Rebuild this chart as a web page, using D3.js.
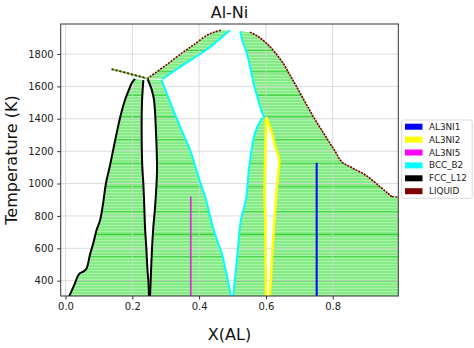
<!DOCTYPE html>
<html>
<head>
<meta charset="utf-8">
<script src="https://cdn.jsdelivr.net/npm/d3@7"></script>
<style>
  body { margin: 0; background: #fff; }
  svg { display: block; font-family: "DejaVu Sans", sans-serif; }
</style>
</head>
<body>
<svg id="chart" width="474" height="348"></svg>
<script>
// ---- Axis ticks and legend ----
const xTicks = [0.0, 0.2, 0.4, 0.6, 0.8];
const yTicks = [400, 600, 800, 1000, 1200, 1400, 1600, 1800];
const phaseNames  = ["AL3NI1", "AL3NI2", "AL3NI5", "BCC_B2", "FCC_L12", "LIQUID"];
const phaseColors = ["#0000ff", "#ffff00", "#ff00ff", "#00ffff", "#000000", "#800000"];

// ---- Phase boundaries, [X(AL), T (K)] ----
// FCC_A1 / two-phase boundary on the Ni-rich side
const fccLeft = [[0.010,300],[0.020,345],[0.028,384],[0.036,425],[0.043,446],[0.053,456],[0.063,476],
  [0.073,559],[0.083,631],[0.093,713],[0.103,770],[0.112,870],[0.121,1000],[0.133,1110],[0.143,1210],
  [0.153,1310],[0.165,1420],[0.178,1516],[0.190,1580],[0.198,1619],[0.208,1646]];
// FCC_L12 single-phase field, left and right edges (top to bottom)
const l12Left = [[0.233,1639],[0.229,1500],[0.228,1310],[0.230,1100],[0.233,1000],[0.236,850],
  [0.238,733],[0.242,600],[0.246,450],[0.248,404],[0.250,300]];
const l12Right = [[0.246,1644],[0.258,1580],[0.265,1515],[0.271,1310],[0.274,1100],[0.273,1020],
  [0.268,850],[0.263,733],[0.259,600],[0.255,404],[0.253,300]];
// BCC_B2 field, Ni-rich edge (below and above the 1645 K corner)
const bccLeft = [[0.288,1639],[0.310,1520],[0.343,1351],[0.373,1207],[0.403,1010],[0.421,898],
  [0.438,754],[0.452,660],[0.468,569],[0.480,460],[0.490,363],[0.495,300]];
const bccLeftUpper = [[0.290,1645],[0.343,1720],[0.403,1800],[0.440,1855],[0.463,1895],[0.480,1925],[0.493,1945]];
// BCC_B2 field, Al-rich edge
const bccRightUpper = [[0.523,1940],[0.530,1880],[0.543,1804],[0.553,1720],[0.563,1618],[0.573,1545],
  [0.583,1474],[0.595,1402]];
const bccRightLow = [[0.502,300],[0.507,404],[0.515,569],[0.525,774],[0.540,898],[0.550,1104],
  [0.567,1310],[0.585,1392],[0.590,1405]];
// AL3NI2 field
const al3ni2Left = [[0.601,1410],[0.598,1200],[0.596,898],[0.598,774],[0.599,500],[0.600,300]];
const al3ni2Right = [[0.601,1410],[0.610,1360],[0.618,1310],[0.628,1230],[0.640,1145],[0.638,1083],
  [0.634,1000],[0.630,898],[0.625,750],[0.620,600],[0.616,450],[0.612,300]];
// Line compounds
const al3ni5Line = [[0.375,300],[0.375,920]];
const al3ni1Line = [[0.752,300],[0.752,1128]];
// Liquidus curves
const liqNi = [[0.138,1706],[0.155,1698],[0.170,1690],[0.185,1682],[0.200,1673],[0.215,1665],[0.230,1657],[0.243,1649]];
const liqLeftUpper = [[0.245,1648],[0.300,1730],[0.350,1808],[0.383,1856],[0.423,1915],[0.445,1935],[0.468,1948]];
const liqRight = [[0.552,1935],[0.575,1910],[0.602,1866],[0.627,1810],[0.652,1742],[0.672,1670],
  [0.692,1598],[0.717,1505],[0.742,1413],[0.767,1330],[0.792,1248],[0.810,1190],[0.827,1135],
  [0.860,1095],[0.900,1050],[0.942,980],[0.965,940],[0.977,919]];
const eutecticAl = [[0.977,919],[1.010,915]];
// Temperatures of the emphasised tie lines
const tieTemps = [398, 548, 686, 826, 980, 1125, 1270, 1412, 1546, 1690, 1822];

// ---- Layout ----
const svg = d3.select("#chart");
const L = 60.7, R = 398.3, T = 24, B = 296;
const x = d3.scaleLinear([-0.0144, 0.9964], [L, R]);
const y = d3.scaleLinear([305.5, 1985.3], [B, T]);
const smooth = d3.line().x(d => x(d[0])).y(d => y(d[1])).curve(d3.curveCatmullRom.alpha(0.5));
const straight = d3.line().x(d => x(d[0])).y(d => y(d[1]));
const rev = a => a.slice().reverse();

// Two-phase regions: each is a list of boundary pieces joined end to end
const regions = [
  [fccLeft, l12Left],
  [rev(l12Right), bccLeft],
  [liqLeftUpper, rev(bccLeftUpper)],
  [bccRightUpper, al3ni2Right, [[1.01,300],[1.01,915]], rev(liqRight)],
  [bccRightLow, al3ni2Left]
];
// Smooth each piece, join them with straight segments, and close the outline
function regionPath(pieces) {
  return pieces.map((p, i) => {
    const d = p.length > 2 ? smooth(p) : straight(p);
    return i === 0 ? d : "L" + d.slice(1);
  }).join("") + "Z";
}

const defs = svg.append("defs");
defs.append("clipPath").attr("id", "plotClip")
  .append("rect").attr("x", L).attr("y", T).attr("width", R - L).attr("height", B - T);
const regionClip = defs.append("clipPath").attr("id", "regionClip");
regions.forEach(r => regionClip.append("path").attr("d", regionPath(r)));

const pat = defs.append("pattern").attr("id", "ties")
  .attr("patternUnits", "userSpaceOnUse").attr("width", 8).attr("height", 3);
pat.append("rect").attr("width", 8).attr("height", 3).attr("fill", "#86ec86");
pat.append("rect").attr("width", 8).attr("height", 1).attr("fill", "#a8f4a8");

const plot = svg.append("g").attr("clip-path", "url(#plotClip)");

// Filled two-phase regions
plot.append("g").selectAll("path").data(regions).join("path")
  .attr("d", regionPath).attr("fill", "url(#ties)").attr("stroke", "none");

// Emphasised tie lines
plot.append("g").attr("clip-path", "url(#regionClip)")
  .selectAll("line").data(tieTemps).join("line")
  .attr("x1", L).attr("x2", R).attr("y1", d => y(d)).attr("y2", d => y(d))
  .attr("stroke", "#3ad23a").attr("stroke-width", 1.1);

// Grid
const grid = plot.append("g").attr("stroke", "#d2d2d2").attr("stroke-width", 0.9).attr("opacity", 0.85);
grid.selectAll(".gx").data(xTicks).join("line")
  .attr("x1", d => x(d)).attr("x2", d => x(d)).attr("y1", T).attr("y2", B);
grid.selectAll(".gy").data(yTicks).join("line")
  .attr("x1", L).attr("x2", R).attr("y1", d => y(d)).attr("y2", d => y(d));

// Phase boundaries
function boundary(data, color, width, dash) {
  const p = plot.append("path").attr("d", data.length > 2 ? smooth(data) : straight(data))
    .attr("fill", "none").attr("stroke", color).attr("stroke-width", width)
    .attr("stroke-linejoin", "round");
  if (dash) p.attr("stroke-dasharray", dash);
  return p;
}
[bccLeft, bccLeftUpper, bccRightUpper, bccRightLow].forEach(b => boundary(b, "#00ffff", 2));
[fccLeft, l12Left, l12Right].forEach(b => boundary(b, "#000000", 2));
[al3ni2Left, al3ni2Right].forEach(b => boundary(b, "#ffff00", 2.5));
boundary(al3ni5Line, "#e020e0", 1.6);
boundary(al3ni1Line, "#0000ff", 2);
boundary(liqNi, "#5ae85a", 2);
boundary(liqNi, "#800000", 1.8, "2,2");
boundary(liqLeftUpper, "#800000", 1.6, "2,1.2");
boundary(liqRight, "#800000", 1.6, "2.2,0.9");
boundary(eutecticAl, "#800000", 1.4, "2,1.5");

// Axes
const ax = svg.append("g").attr("font-size", 11);
const xAxis = ax.append("g").attr("transform", `translate(0,${B})`)
  .call(d3.axisBottom(x).tickValues(xTicks).tickFormat(d3.format(".1f")).tickSize(3.5).tickPadding(3.5));
const yAxis = ax.append("g").attr("transform", `translate(${L},0)`)
  .call(d3.axisLeft(y).tickValues(yTicks).tickFormat(d3.format("d")).tickSize(3.5).tickPadding(3.5));
[xAxis, yAxis].forEach(a => {
  a.select(".domain").remove();
  a.selectAll("line").attr("stroke", "#333");
  a.selectAll("text").attr("fill", "#222").attr("font-family", "DejaVu Sans");
});
svg.append("rect").attr("x", L).attr("y", T).attr("width", R - L).attr("height", B - T)
  .attr("fill", "none").attr("stroke", "#333").attr("stroke-width", 1);

// Titles
svg.append("text").attr("x", (L + R) / 2).attr("y", 18.3).attr("text-anchor", "middle")
  .attr("font-size", 16).attr("fill", "#111").text("Al-Ni");
svg.append("text").attr("x", (L + R) / 2).attr("y", 340).attr("text-anchor", "middle")
  .attr("font-size", 16).attr("fill", "#111").text("X(AL)");
svg.append("text").attr("transform", `translate(17,${(T + B) / 2}) rotate(-90)`)
  .attr("text-anchor", "middle").attr("font-size", 16).attr("fill", "#111").text("Temperature (K)");

// Legend
const lg = svg.append("g");
lg.append("rect").attr("x", 401.7).attr("y", 120).attr("width", 70.5).attr("height", 78.3)
  .attr("rx", 2).attr("fill", "#fff").attr("fill-opacity", 0.85).attr("stroke", "#d0d0d0").attr("stroke-width", 0.8);
const items = lg.selectAll(".item").data(phaseNames).join("g")
  .attr("transform", (d, i) => `translate(0,${126.7 + i * 12.9})`);
items.append("rect").attr("x", 405).attr("y", -3).attr("width", 17.5).attr("height", 6)
  .attr("fill", (d, i) => phaseColors[i]);
items.append("text").attr("x", 429).attr("dy", "0.35em").attr("font-size", 8.8)
  .attr("fill", "#222").text(d => d);
</script>
</body>
</html>
